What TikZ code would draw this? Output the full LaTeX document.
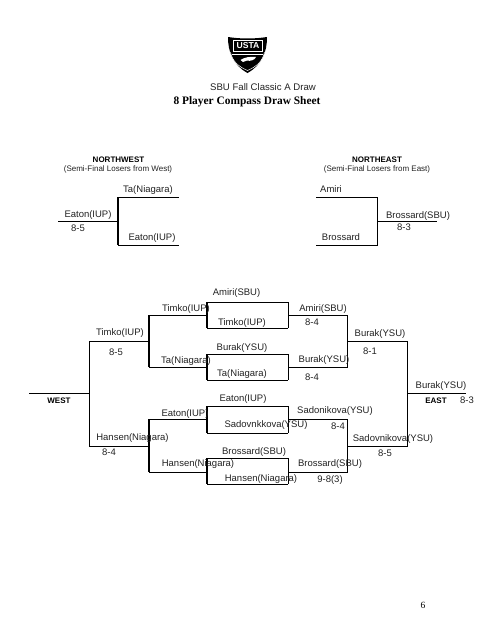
\documentclass[tikz,border=0pt]{standalone}
\usepackage{fontspec}
\setmainfont{Liberation Sans}
\newfontfamily\serifface{Liberation Serif}
\usetikzlibrary{positioning}
\definecolor{inktext}{HTML}{222222}
\begin{document}
\begin{tikzpicture}[x=1pt, y=-1pt,
    player/.style={inner sep=0pt, text=inktext, font=\fontsize{9.5}{11}\selectfont},
    score/.style={inner sep=0pt, text=inktext, font=\fontsize{9.5}{11}\selectfont},
    region/.style={inner sep=0pt, text=black, font=\fontsize{8}{10}\selectfont\bfseries},
    note/.style={inner sep=0pt, text=inktext, font=\fontsize{8}{10}\selectfont},
    rule/.style={draw=black, line width=0.9pt},
    heavyrule/.style={draw=black, line width=1.5pt}
]
    \useasboundingbox (0,0) rectangle (495,640);

    % Logo
    \fill[black] (228,37) .. controls (241,39) and (254,39) .. (267,37)
        .. controls (267,52) and (262,65) .. (247.5,73)
        .. controls (233,65) and (228,52) .. (228,37) -- cycle;
    \draw[white, line width=0.5pt] (230.5,52) .. controls (232,60) and (237,66) .. (247.5,70.5)
        .. controls (258,66) and (263,60) .. (264.5,52);
    \fill[white] (233,40) rectangle (263,51.5);
    \fill[black] (234,41) rectangle (262,50.5);
    \node[inner sep=0pt, text=white, font=\fontsize{8.6}{9}\selectfont\bfseries] (logotext) at (248,45.8) {USTA};
    \fill[white] (232,53.5) rectangle (263,54.5);
    \fill[white] (240.5,60) .. controls (245,57) and (250,56.5) .. (256,57)
        .. controls (255,60) and (250,61.5) .. (247,60.5) -- (243,62) -- cycle;

    % Titles
    \node[inner sep=0pt, text=inktext, font=\fontsize{9.6}{11}\selectfont] (event) at (263,87) {SBU Fall Classic A Draw};
    \node[inner sep=0pt, text=black, font=\fontsize{11.4}{13}\selectfont\serifface\bfseries] (sheet) at (247,102) {8 Player Compass Draw Sheet};
    \node[inner sep=0pt, text=black, font=\fontsize{9.5}{11}\selectfont\serifface] (pagenum) at (423,605) {6};

    % Northwest
    \node[region] (nwtitle) at (118.5,160) {NORTHWEST};
    \node[note] (nwnote) at (118,169) {(Semi-Final Losers from West)};
    \coordinate (nwa) at (118,197);
    \coordinate (nwb) at (118,245);
    \coordinate (nwc) at (118,221);
    \coordinate (nwae) at (179,197);
    \coordinate (nwbe) at (179,245);
    \coordinate (nwce) at (58,221);
    \draw[heavyrule] (nwa) -- (nwb);
    \draw[rule] (nwa) -- (nwae);
    \draw[rule] (nwb) -- (nwbe);
    \draw[rule] (nwc) -- (nwce);
    \node[player] (nw1) at (148,190) {Ta(Niagara)};
    \node[player] (nw2) at (152,238) {Eaton(IUP)};
    \node[player] (nw3) at (88,215) {Eaton(IUP)};
    \node[score] (nw4) at (78,228) {8-5};

    % Northeast
    \node[region] (netitle) at (377,160) {NORTHEAST};
    \node[note] (nenote) at (377,169) {(Semi-Final Losers from East)};
    \coordinate (nea) at (377,197);
    \coordinate (neb) at (377,245);
    \coordinate (nec) at (377,221);
    \coordinate (neae) at (316,197);
    \coordinate (nebe) at (316,245);
    \coordinate (nece) at (437,221);
    \draw[rule] (neae) -- (nea) -- (neb) -- (nebe);
    \draw[rule] (nec) -- (nece);
    \node[player] (ne1) at (331,189) {Amiri};
    \node[player] (ne2) at (341,237) {Brossard};
    \node[player] (ne3) at (418,216) {Brossard(SBU)};
    \node[score] (ne4) at (404,227) {8-3};

    % West half, first round in the middle
    \coordinate (wroot) at (29,393);
    \coordinate (wmid) at (89,393);
    \coordinate (wa) at (89,341);
    \coordinate (wb) at (89,446);
    \coordinate (wae) at (149,341);
    \coordinate (wbe) at (149,446);
    \coordinate (waa) at (149,315);
    \coordinate (wab) at (149,367);
    \coordinate (wba) at (149,419);
    \coordinate (wbb) at (149,472);
    \coordinate (waae) at (207,315);
    \coordinate (wabe) at (207,367);
    \coordinate (wbae) at (207,419);
    \coordinate (wbbe) at (207,472);
    \draw[rule] (wroot) -- (wmid);
    \draw[rule] (wa) -- (wb);
    \draw[rule] (wa) -- (wae);
    \draw[rule] (wb) -- (wbe);
    \draw[heavyrule] (waa) -- (wab);
    \draw[heavyrule] (wba) -- (wbb);
    \draw[rule] (waa) -- (waae);
    \draw[rule] (wab) -- (wabe);
    \draw[rule] (wba) -- (wbae);
    \draw[rule] (wbb) -- (wbbe);

    % Middle boxes
    \coordinate (r1a) at (207,302);
    \coordinate (r1b) at (207,328);
    \coordinate (r2a) at (207,354);
    \coordinate (r2b) at (207,380);
    \coordinate (r3a) at (207,406);
    \coordinate (r3b) at (207,433);
    \coordinate (r4a) at (207,458);
    \coordinate (r4b) at (207,484);
    \coordinate (s1a) at (288,302);
    \coordinate (s1b) at (288,328);
    \coordinate (s2a) at (288,354);
    \coordinate (s2b) at (288,380);
    \coordinate (s3a) at (288,406);
    \coordinate (s3b) at (288,433);
    \coordinate (s4a) at (288,458);
    \coordinate (s4b) at (288,484);
    \draw[heavyrule] (r1a) -- (r1b);
    \draw[heavyrule] (r2a) -- (r2b);
    \draw[heavyrule] (r3a) -- (r3b);
    \draw[heavyrule] (r4a) -- (r4b);
    \draw[rule] (s1a) -- (s1b);
    \draw[rule] (s2a) -- (s2b);
    \draw[rule] (s3a) -- (s3b);
    \draw[rule] (s4a) -- (s4b);
    \draw[rule] (r1a) -- (s1a);
    \draw[rule] (r1b) -- (s1b);
    \draw[rule] (r2a) -- (s2a);
    \draw[rule] (r2b) -- (s2b);
    \draw[rule] (r3a) -- (s3a);
    \draw[rule] (r3b) -- (s3b);
    \draw[rule] (r4a) -- (s4a);
    \draw[rule] (r4b) -- (s4b);

    % East half
    \coordinate (eaa) at (288,315);
    \coordinate (eab) at (288,367);
    \coordinate (eba) at (288,419);
    \coordinate (ebb) at (288,472);
    \coordinate (eaae) at (347,315);
    \coordinate (eabe) at (347,367);
    \coordinate (ebae) at (347,419);
    \coordinate (ebbe) at (347,472);
    \coordinate (ea) at (347,341);
    \coordinate (eb) at (347,446);
    \coordinate (eae) at (407,341);
    \coordinate (ebe) at (407,446);
    \coordinate (emid) at (407,393);
    \coordinate (eroot) at (466,393);
    \draw[rule] (eaa) -- (eaae) -- (eabe) -- (eab);
    \draw[rule] (eba) -- (ebae) -- (ebbe) -- (ebb);
    \draw[rule] (ea) -- (eae) -- (ebe) -- (eb);
    \draw[rule] (emid) -- (eroot);

    % Labels
    \node[region] (westlabel) at (59,401) {WEST};
    \node[region] (eastlabel) at (436,401) {EAST};

    \node[player] (m1) at (236.5,293) {Amiri(SBU)};
    \node[player] (m2) at (242,323) {Timko(IUP)};
    \node[player] (m3) at (242,348) {Burak(YSU)};
    \node[player] (m4) at (242,374) {Ta(Niagara)};
    \node[player] (m5) at (243,399) {Eaton(IUP)};
    \node[player] (m6) at (266,425) {Sadovnkkova(YSU)};
    \node[player] (m7) at (254,452) {Brossard(SBU)};
    \node[player] (m8) at (261,479) {Hansen(Niagara)};

    \node[player] (w1) at (186,309) {Timko(IUP)};
    \node[player] (w2) at (186,361) {Ta(Niagara)};
    \node[player] (w3) at (185,414) {Eaton(IUP)};
    \node[player] (w4) at (198,464) {Hansen(Niagara)};
    \node[player] (w5) at (120,333) {Timko(IUP)};
    \node[score] (w6) at (116,352) {8-5};
    \node[player] (w7) at (132.5,438) {Hansen(Niagara)};
    \node[score] (w8) at (109,452) {8-4};

    \node[player] (e1) at (323,309) {Amiri(SBU)};
    \node[score] (e2) at (312,322) {8-4};
    \node[player] (e3) at (324,360) {Burak(YSU)};
    \node[score] (e4) at (312,377) {8-4};
    \node[player] (e5) at (335,411) {Sadonikova(YSU)};
    \node[score] (e6) at (338,426) {8-4};
    \node[player] (e7) at (330,464) {Brossard(SBU)};
    \node[score] (e8) at (330,480) {9-8(3)};
    \node[player] (e9) at (380,334) {Burak(YSU)};
    \node[score] (e10) at (370,351) {8-1};
    \node[player] (e11) at (393,439) {Sadovnikova(YSU)};
    \node[score] (e12) at (385,453) {8-5};
    \node[player] (e13) at (441,386) {Burak(YSU)};
    \node[score] (e14) at (467,400) {8-3};
\end{tikzpicture}
\end{document}
